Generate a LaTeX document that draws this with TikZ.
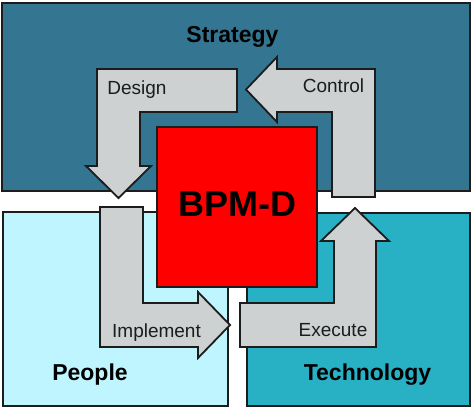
\documentclass[tikz,border=0pt]{standalone}
\usepackage{fontspec}
\setmainfont{Liberation Sans}
\definecolor{stratblue}{RGB}{52,117,146}
\definecolor{techblue}{RGB}{40,176,196}
\definecolor{peoplecyan}{RGB}{191,245,254}
\definecolor{arrowgray}{RGB}{205,209,210}
\definecolor{edgedark}{RGB}{28,28,28}
\definecolor{bpmred}{RGB}{255,0,0}
\tikzset{
  area/.style={draw=edgedark, line width=2pt},
  bigarrow/.style={draw=edgedark, fill=arrowgray, line width=1.8pt, line join=miter},
  title/.style={anchor=base, inner sep=0pt, font=\bfseries\fontsize{23}{27}\selectfont},
  lab/.style={anchor=base, inner sep=0pt, font=\fontsize{19}{22}\selectfont, text=edgedark},
}
\begin{document}
\begin{tikzpicture}[x=1pt,y=-1pt]
\useasboundingbox[fill=white] (0,0) rectangle (474,408);
% areas
\draw[area, fill=stratblue] (2,3) rectangle (470,191);
\draw[area, fill=peoplecyan] (3,212) rectangle (228,406);
\draw[area, fill=techblue] (247,213) rectangle (470,406);
% core
\draw[area, fill=bpmred] (157,127) rectangle (317,287);
% arrows
\draw[bigarrow] (237,69) -- (97,69) -- (97,166) -- (86,166) -- (118.5,198) -- (151,166) -- (140,166) -- (140,112) -- (237,112) -- cycle;
\draw[bigarrow] (246,89.5) -- (277,57) -- (277,69) -- (375,69) -- (375,197) -- (332,197) -- (332,112) -- (277,112) -- (277,122) -- cycle;
\draw[bigarrow] (100,207) -- (143,207) -- (143,303) -- (198,303) -- (198,292) -- (230,325) -- (198,358) -- (198,347) -- (100,347) -- cycle;
\draw[bigarrow] (240,303) -- (334,303) -- (334,241) -- (321,241) -- (355,208) -- (389,241) -- (376,241) -- (376,347) -- (240,347) -- cycle;
% texts
\node[title] (tstrat) at (232.5,42.5) {Strategy};
\node[title] (tpeople) at (90,380.5) {People};
\node[title] (ttech) at (367.5,380.5) {Technology};
\node[anchor=base, inner sep=0pt, font=\bfseries\fontsize{36}{40}\selectfont] (tbpm) at (237.5,216) {BPM-D};
\node[lab] (ldesign) at (137,94) {Design};
\node[lab] (lcontrol) at (333.5,92) {Control};
\node[lab] (limpl) at (156.5,337) {Implement};
\node[lab] (lexec) at (333,336.5) {Execute};
\end{tikzpicture}
\end{document}
